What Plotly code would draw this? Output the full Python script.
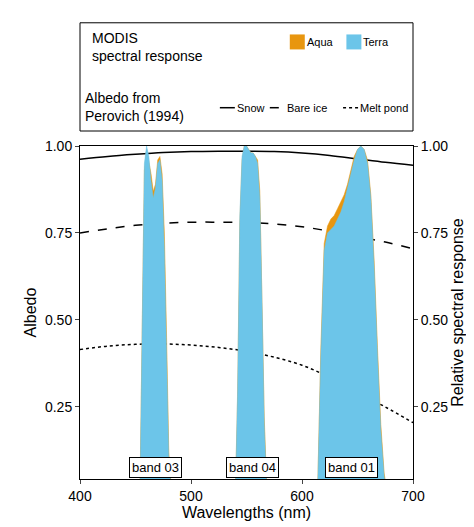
import plotly.graph_objects as go

# Albedo from Perovich (1994)
alb_wl = [400, 425, 450, 475, 500, 525, 550, 575, 600, 625, 650, 675, 700]
snow = [0.962, 0.970, 0.976, 0.981, 0.984, 0.985, 0.985, 0.984, 0.980, 0.973, 0.963, 0.953, 0.945]
bare_ice = [0.750, 0.762, 0.772, 0.778, 0.781, 0.781, 0.780, 0.776, 0.768, 0.755, 0.740, 0.724, 0.705]
melt_pond = [0.415, 0.425, 0.430, 0.431, 0.428, 0.421, 0.410, 0.393, 0.370, 0.335, 0.292, 0.250, 0.205]

# MODIS relative spectral response
b3_wl = [454, 456, 458, 460, 462, 464, 466, 468, 470, 472, 474, 476, 478, 480, 482, 484]
b3_terra = [0.0, 0.5, 0.95, 1.0, 0.97, 0.90, 0.85, 0.88, 0.95, 0.96, 0.90, 0.70, 0.40, 0.10, 0.02, 0.0]
b3_aqua = [0.0, 0.45, 0.93, 0.99, 0.96, 0.92, 0.87, 0.89, 0.96, 0.97, 0.92, 0.75, 0.45, 0.12, 0.03, 0.0]
b4_wl = [540, 542, 544, 546, 548, 550, 552, 554, 556, 558, 560, 562, 564, 566, 568, 570]
b4_terra = [0.0, 0.30, 0.80, 0.97, 1.0, 1.0, 0.99, 0.98, 0.98, 0.97, 0.95, 0.85, 0.55, 0.20, 0.03, 0.0]
b4_aqua = [0.0, 0.28, 0.78, 0.96, 1.0, 1.0, 0.99, 0.98, 0.98, 0.97, 0.96, 0.87, 0.58, 0.22, 0.04, 0.0]
b1_wl = [614, 617, 620, 623, 626, 629, 632, 635, 638, 641, 644, 647, 650, 653, 656, 659, 662, 665, 668, 671, 674, 677]
b1_terra = [0.0, 0.40, 0.70, 0.75, 0.76, 0.77, 0.79, 0.81, 0.84, 0.88, 0.92, 0.96, 0.99, 1.0, 0.99, 0.95, 0.85, 0.65, 0.40, 0.18, 0.05, 0.0]
b1_aqua = [0.0, 0.42, 0.72, 0.77, 0.79, 0.80, 0.82, 0.84, 0.86, 0.89, 0.93, 0.97, 0.99, 1.0, 0.99, 0.96, 0.86, 0.67, 0.42, 0.20, 0.06, 0.0]

band_names = ["band 03", "band 04", "band 01"]
band_pos = [468, 555, 645]

aqua_c = "#E8960F"
terra_c = "#6CC5E9"

fig = go.Figure()
for wl, a in [(b3_wl, b3_aqua), (b4_wl, b4_aqua), (b1_wl, b1_aqua)]:
    fig.add_trace(go.Scatter(x=wl, y=a, fill="tozeroy", mode="lines", line=dict(color=aqua_c, width=0.5),
                             fillcolor=aqua_c, yaxis="y2", showlegend=False))
for wl, t in [(b3_wl, b3_terra), (b4_wl, b4_terra), (b1_wl, b1_terra)]:
    fig.add_trace(go.Scatter(x=wl, y=t, fill="tozeroy", mode="lines", line=dict(color=terra_c, width=0.5),
                             fillcolor=terra_c, yaxis="y2", showlegend=False))

fig.add_trace(go.Scatter(x=alb_wl, y=snow, mode="lines", line=dict(color="black", width=1.5, shape="spline"), showlegend=False))
fig.add_trace(go.Scatter(x=alb_wl, y=bare_ice, mode="lines", line=dict(color="black", width=1.5, dash="dash", shape="spline"), showlegend=False))
fig.add_trace(go.Scatter(x=alb_wl, y=melt_pond, mode="lines", line=dict(color="black", width=1.5, dash="dot", shape="spline"), showlegend=False))

for name, pos in zip(band_names, band_pos):
    fig.add_annotation(x=pos, y=0.075, text=name, showarrow=False, bgcolor="white", bordercolor="black",
                       borderwidth=1, borderpad=2, font=dict(size=13, color="black"))

yr = [0.043, 1.0]
fig.update_layout(
    width=474, height=527, margin=dict(l=72, r=69, t=138, b=56, autoexpand=False),
    paper_bgcolor="white", plot_bgcolor="white",
    font=dict(family="Liberation Sans, Arial", size=13, color="black"),
    xaxis=dict(range=[400, 700], tickvals=[400, 500, 600, 700], ticks="outside", ticklen=4,
               showgrid=False, showline=True, linecolor="black", mirror=True, zeroline=False,
               title=dict(text="Wavelengths (nm)", standoff=2), tickfont=dict(size=14)),
    yaxis=dict(range=yr, tickvals=[0.25, 0.5, 0.75, 1.0], ticktext=["0.25", "0.50", "0.75", "1.00"],
               ticks="outside", ticklen=4, showgrid=False, showline=True, linecolor="black", automargin=False,
               zeroline=False, title=dict(text="Albedo", standoff=4), tickfont=dict(size=14)),
    yaxis2=dict(range=yr, overlaying="y", side="right", tickvals=[0.25, 0.5, 0.75, 1.0],
                ticktext=["0.25", "0.50", "0.75", "1.00"], ticks="outside", ticklen=4, showgrid=False,
                showline=True, linecolor="black", zeroline=False, tickfont=dict(size=14), automargin=False,
                title=dict(text="Relative spectral response", standoff=4)),
)

# legend box drawn by hand
fig.add_shape(type="rect", xref="paper", yref="paper", x0=0.0, x1=1.0, y0=1.045, y1=1.37,
              line=dict(color="black", width=1), fillcolor="white")
fig.add_annotation(xref="paper", yref="paper", x=0.03, y=1.355, xanchor="left", yanchor="top", align="left",
                   text="MODIS<br>spectral response", showarrow=False, font=dict(size=14))
fig.add_annotation(xref="paper", yref="paper", x=0.01, y=1.06, xanchor="left", yanchor="bottom", align="left",
                   text="Albedo from<br>Perovich (1994)", showarrow=False, font=dict(size=14))
fig.add_shape(type="rect", xref="paper", yref="paper", x0=0.63, x1=0.675, y0=1.29, y1=1.335,
              line=dict(width=0), fillcolor=aqua_c)
fig.add_annotation(xref="paper", yref="paper", x=0.675, y=1.312, xanchor="left", yanchor="middle",
                   text="Aqua", showarrow=False, font=dict(size=11))
fig.add_shape(type="rect", xref="paper", yref="paper", x0=0.80, x1=0.845, y0=1.29, y1=1.335,
              line=dict(width=0), fillcolor=terra_c)
fig.add_annotation(xref="paper", yref="paper", x=0.845, y=1.312, xanchor="left", yanchor="middle",
                   text="Terra", showarrow=False, font=dict(size=11))
for x0, dash, label in [(0.42, "solid", "Snow"), (0.57, "dash", "Bare ice"), (0.79, "dot", "Melt pond")]:
    fig.add_shape(type="line", xref="paper", yref="paper", x0=x0, x1=x0 + 0.045, y0=1.115, y1=1.115,
                  line=dict(color="black", width=1.5, dash=dash))
    fig.add_annotation(xref="paper", yref="paper", x=x0 + 0.045, y=1.115, xanchor="left", yanchor="middle",
                       text=label, showarrow=False, font=dict(size=11))

fig.write_html("out.html")
